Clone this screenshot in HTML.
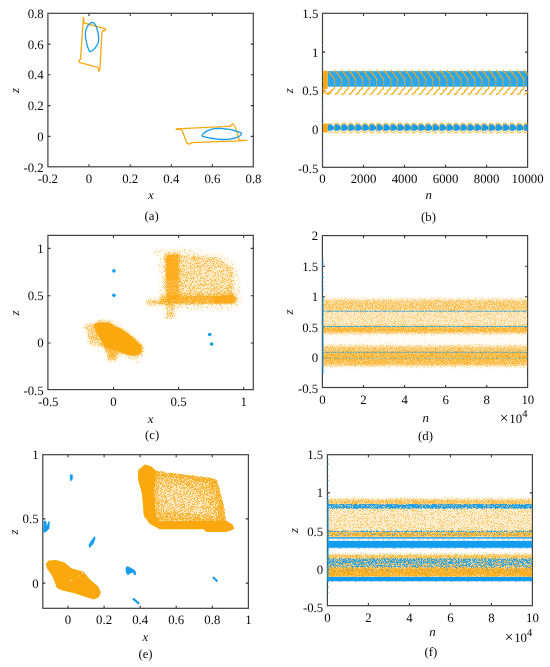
<!DOCTYPE html>
<html><head><meta charset="utf-8"><title>Figure</title>
<style>html,body{margin:0;padding:0;background:#fff}svg{display:block}
text{font-family:"Liberation Serif","DejaVu Serif",serif;font-size:12.8px;fill:#0a0a0a;text-rendering:geometricPrecision}</style></head>
<body><svg width="550" height="667" viewBox="0 0 550 667">
<rect width="550" height="667" fill="#fff"/>
<defs>
<filter id="so" filterUnits="userSpaceOnUse" x="0" y="0" width="550" height="667" color-interpolation-filters="sRGB">
<feGaussianBlur in="SourceAlpha" stdDeviation="1.2" result="a"/>
<feTurbulence type="fractalNoise" baseFrequency="1.3" numOctaves="1" seed="3" result="t"/>
<feColorMatrix in="t" type="matrix" values="0 0 0 0 0 0 0 0 0 0 0 0 0 0 0 3.2 0 0 0 -1.1" result="n"/>
<feComposite in="a" in2="n" operator="arithmetic" k1="0" k2="1" k3="-1" k4="0" result="d"/>
<feComponentTransfer in="d" result="m"><feFuncA type="linear" slope="12" intercept="0"/></feComponentTransfer>
<feComposite in="m" in2="a" operator="arithmetic" k1="0" k2="0.45" k3="0.55" k4="0" result="q"/>
<feFlood flood-color="#FBA80F"/><feComposite in2="q" operator="in"/>
</filter>
<filter id="so2" filterUnits="userSpaceOnUse" x="0" y="0" width="550" height="667" color-interpolation-filters="sRGB">
<feGaussianBlur in="SourceAlpha" stdDeviation="0.8" result="a"/>
<feTurbulence type="fractalNoise" baseFrequency="1.3" numOctaves="1" seed="11" result="t"/>
<feColorMatrix in="t" type="matrix" values="0 0 0 0 0 0 0 0 0 0 0 0 0 0 0 3.2 0 0 0 -1.1" result="n"/>
<feComposite in="a" in2="n" operator="arithmetic" k1="0" k2="1" k3="-1" k4="0" result="d"/>
<feComponentTransfer in="d" result="m"><feFuncA type="linear" slope="12" intercept="0"/></feComponentTransfer>
<feComposite in="m" in2="a" operator="arithmetic" k1="0" k2="0.6" k3="0.40" k4="0" result="q"/>
<feFlood flood-color="#FBA80F"/><feComposite in2="q" operator="in"/>
</filter>
<filter id="sb" filterUnits="userSpaceOnUse" x="0" y="0" width="550" height="667" color-interpolation-filters="sRGB">
<feGaussianBlur in="SourceAlpha" stdDeviation="0" result="a"/>
<feTurbulence type="fractalNoise" baseFrequency="1.3" numOctaves="1" seed="5" result="t"/>
<feColorMatrix in="t" type="matrix" values="0 0 0 0 0 0 0 0 0 0 0 0 0 0 0 3.2 0 0 0 -1.1" result="n"/>
<feComposite in="a" in2="n" operator="arithmetic" k1="0" k2="1" k3="-1" k4="0" result="d"/>
<feComponentTransfer in="d" result="m"><feFuncA type="linear" slope="12" intercept="0"/></feComponentTransfer>
<feComposite in="m" in2="a" operator="arithmetic" k1="0" k2="0.6" k3="0.40" k4="0" result="q"/>
<feFlood flood-color="#149DEE"/><feComposite in2="q" operator="in"/>
</filter>
<filter id="soh" filterUnits="userSpaceOnUse" x="0" y="0" width="550" height="667" color-interpolation-filters="sRGB">
<feGaussianBlur in="SourceAlpha" stdDeviation="0 1.5" result="a"/>
<feTurbulence type="fractalNoise" baseFrequency="1.3" numOctaves="1" seed="8" result="t"/>
<feColorMatrix in="t" type="matrix" values="0 0 0 0 0 0 0 0 0 0 0 0 0 0 0 3.2 0 0 0 -1.1" result="n"/>
<feComposite in="a" in2="n" operator="arithmetic" k1="0" k2="1" k3="-1" k4="0" result="d"/>
<feComponentTransfer in="d" result="m"><feFuncA type="linear" slope="12" intercept="0"/></feComponentTransfer>
<feComposite in="m" in2="a" operator="arithmetic" k1="0" k2="0.32" k3="0.68" k4="0" result="q"/>
<feFlood flood-color="#FBA80F"/><feComposite in2="q" operator="in"/>
</filter>
<filter id="sbh" filterUnits="userSpaceOnUse" x="0" y="0" width="550" height="667" color-interpolation-filters="sRGB">
<feGaussianBlur in="SourceAlpha" stdDeviation="0" result="a"/>
<feTurbulence type="fractalNoise" baseFrequency="0.8 1.1" numOctaves="1" seed="21" result="t"/>
<feColorMatrix in="t" type="matrix" values="0 0 0 0 0 0 0 0 0 0 0 0 0 0 0 3.2 0 0 0 -1.1" result="n"/>
<feComposite in="a" in2="n" operator="arithmetic" k1="0" k2="1" k3="-1" k4="0" result="d"/>
<feComponentTransfer in="d" result="m"><feFuncA type="linear" slope="12" intercept="0"/></feComponentTransfer>
<feComposite in="m" in2="a" operator="arithmetic" k1="0" k2="0.7" k3="0.30" k4="0" result="q"/>
<feFlood flood-color="#149DEE"/><feComposite in2="q" operator="in"/>
</filter>
<filter id="so3" filterUnits="userSpaceOnUse" x="0" y="0" width="550" height="667" color-interpolation-filters="sRGB">
<feGaussianBlur in="SourceAlpha" stdDeviation="0" result="a"/>
<feTurbulence type="fractalNoise" baseFrequency="1.3" numOctaves="1" seed="17" result="t"/>
<feColorMatrix in="t" type="matrix" values="0 0 0 0 0 0 0 0 0 0 0 0 0 0 0 3.2 0 0 0 -1.1" result="n"/>
<feComposite in="a" in2="n" operator="arithmetic" k1="0" k2="1" k3="-1" k4="0" result="d"/>
<feComponentTransfer in="d" result="m"><feFuncA type="linear" slope="12" intercept="0"/></feComponentTransfer>
<feComposite in="m" in2="a" operator="arithmetic" k1="0" k2="0.5" k3="0.50" k4="0" result="q"/>
<feFlood flood-color="#FBA80F"/><feComposite in2="q" operator="in"/>
</filter>
<filter id="sof" filterUnits="userSpaceOnUse" x="0" y="0" width="550" height="667" color-interpolation-filters="sRGB">
<feGaussianBlur in="SourceAlpha" stdDeviation="0 0.8" result="a"/>
<feTurbulence type="fractalNoise" baseFrequency="1.3" numOctaves="1" seed="14" result="t"/>
<feColorMatrix in="t" type="matrix" values="0 0 0 0 0 0 0 0 0 0 0 0 0 0 0 3.2 0 0 0 -1.1" result="n"/>
<feComposite in="a" in2="n" operator="arithmetic" k1="0" k2="1" k3="-1" k4="0" result="d"/>
<feComponentTransfer in="d" result="m"><feFuncA type="linear" slope="12" intercept="0"/></feComponentTransfer>
<feComposite in="m" in2="a" operator="arithmetic" k1="0" k2="0.4" k3="0.60" k4="0" result="q"/>
<feFlood flood-color="#FBA80F"/><feComposite in2="q" operator="in"/>
</filter>
<clipPath id="cA"><rect x="47.9" y="13.3" width="205.4" height="153.5"/></clipPath>
<clipPath id="cB"><rect x="322.5" y="13.3" width="205.1" height="154.0"/></clipPath>
<clipPath id="cC"><rect x="47.9" y="235.4" width="205.4" height="154.2"/></clipPath>
<clipPath id="cD"><rect x="322.4" y="235.6" width="205.2" height="151.9"/></clipPath>
<clipPath id="cE"><rect x="42.8" y="454.7" width="205.6" height="153.6"/></clipPath>
<clipPath id="cF"><rect x="327.4" y="454.7" width="205.0" height="151.0"/></clipPath>
<filter id="bl" x="-10%" y="-10%" width="120%" height="120%"><feGaussianBlur stdDeviation="0.8"/></filter>
</defs>
<path d="M89.0 166.8v-2.6M89.0 13.3v2.6M130.2 166.8v-2.6M130.2 13.3v2.6M171.3 166.8v-2.6M171.3 13.3v2.6M212.4 166.8v-2.6M212.4 13.3v2.6M47.9 136.4h2.6M253.3 136.4h-2.6M47.9 105.6h2.6M253.3 105.6h-2.6M47.9 74.8h2.6M253.3 74.8h-2.6M47.9 44.1h2.6M253.3 44.1h-2.6" stroke="#333" stroke-width="1.1" fill="none"/>
<rect x="47.9" y="13.3" width="205.4" height="153.5" fill="none" stroke="#404040" stroke-width="1.2"/>
<text x="47.9" y="183.1" text-anchor="middle">-0.2</text>
<text x="89.0" y="183.1" text-anchor="middle">0</text>
<text x="130.2" y="183.1" text-anchor="middle">0.2</text>
<text x="171.3" y="183.1" text-anchor="middle">0.4</text>
<text x="212.4" y="183.1" text-anchor="middle">0.6</text>
<text x="253.5" y="183.1" text-anchor="middle">0.8</text>
<text x="43.7" y="171.6" text-anchor="end">-0.2</text>
<text x="43.7" y="140.8" text-anchor="end">0</text>
<text x="43.7" y="110.0" text-anchor="end">0.2</text>
<text x="43.7" y="79.2" text-anchor="end">0.4</text>
<text x="43.7" y="48.5" text-anchor="end">0.6</text>
<text x="43.7" y="17.7" text-anchor="end">0.8</text>
<text x="150.9" y="199.3" text-anchor="middle" font-style="italic" font-size="14">x</text>
<text transform="translate(18.5 90.5) rotate(-90)" text-anchor="middle" font-style="italic" font-size="14.5">z</text>
<text x="151.6" y="219.6" text-anchor="middle" font-size="13">(a)</text>
<path d="M363.5 167.3v-2.6M363.5 13.3v2.6M404.5 167.3v-2.6M404.5 13.3v2.6M445.6 167.3v-2.6M445.6 13.3v2.6M486.6 167.3v-2.6M486.6 13.3v2.6M322.5 129.6h2.6M527.6 129.6h-2.6M322.5 90.8h2.6M527.6 90.8h-2.6M322.5 52.1h2.6M527.6 52.1h-2.6" stroke="#333" stroke-width="1.1" fill="none"/>
<rect x="322.5" y="13.3" width="205.1" height="154.0" fill="none" stroke="#404040" stroke-width="1.2"/>
<text x="322.5" y="183.2" text-anchor="middle">0</text>
<text x="363.5" y="183.2" text-anchor="middle">2000</text>
<text x="404.5" y="183.2" text-anchor="middle">4000</text>
<text x="445.6" y="183.2" text-anchor="middle">6000</text>
<text x="486.6" y="183.2" text-anchor="middle">8000</text>
<text x="527.6" y="183.2" text-anchor="middle">10000</text>
<text x="318.3" y="172.7" text-anchor="end">-0.5</text>
<text x="318.3" y="134.0" text-anchor="end">0</text>
<text x="318.3" y="95.2" text-anchor="end">0.5</text>
<text x="318.3" y="56.5" text-anchor="end">1</text>
<text x="318.3" y="17.7" text-anchor="end">1.5</text>
<text x="428.6" y="199.2" text-anchor="middle" font-style="italic" font-size="14">n</text>
<text transform="translate(293.1 90.7) rotate(-90)" text-anchor="middle" font-style="italic" font-size="14.5">z</text>
<text x="428.5" y="221.3" text-anchor="middle" font-size="13">(b)</text>
<path d="M113.5 389.6v-2.6M113.5 235.4v2.6M178.6 389.6v-2.6M178.6 235.4v2.6M243.7 389.6v-2.6M243.7 235.4v2.6M47.9 343.0h2.6M253.3 343.0h-2.6M47.9 295.7h2.6M253.3 295.7h-2.6M47.9 248.4h2.6M253.3 248.4h-2.6" stroke="#333" stroke-width="1.1" fill="none"/>
<rect x="47.9" y="235.4" width="205.4" height="154.2" fill="none" stroke="#404040" stroke-width="1.2"/>
<text x="48.4" y="406.1" text-anchor="middle">-0.5</text>
<text x="113.5" y="406.1" text-anchor="middle">0</text>
<text x="178.6" y="406.1" text-anchor="middle">0.5</text>
<text x="243.7" y="406.1" text-anchor="middle">1</text>
<text x="43.7" y="394.7" text-anchor="end">-0.5</text>
<text x="43.7" y="347.4" text-anchor="end">0</text>
<text x="43.7" y="300.1" text-anchor="end">0.5</text>
<text x="43.7" y="252.8" text-anchor="end">1</text>
<text x="150.5" y="422.5" text-anchor="middle" font-style="italic" font-size="14">x</text>
<text transform="translate(18.5 312.9) rotate(-90)" text-anchor="middle" font-style="italic" font-size="14.5">z</text>
<text x="152.2" y="439.4" text-anchor="middle" font-size="13">(c)</text>
<path d="M363.5 387.5v-2.6M363.5 235.6v2.6M404.6 387.5v-2.6M404.6 235.6v2.6M445.6 387.5v-2.6M445.6 235.6v2.6M486.7 387.5v-2.6M486.7 235.6v2.6M322.4 357.7h2.6M527.6 357.7h-2.6M322.4 327.2h2.6M527.6 327.2h-2.6M322.4 296.7h2.6M527.6 296.7h-2.6M322.4 266.2h2.6M527.6 266.2h-2.6" stroke="#333" stroke-width="1.1" fill="none"/>
<rect x="322.4" y="235.6" width="205.2" height="151.9" fill="none" stroke="#404040" stroke-width="1.2"/>
<text x="322.4" y="403.6" text-anchor="middle">0</text>
<text x="363.5" y="403.6" text-anchor="middle">2</text>
<text x="404.6" y="403.6" text-anchor="middle">4</text>
<text x="445.6" y="403.6" text-anchor="middle">6</text>
<text x="486.7" y="403.6" text-anchor="middle">8</text>
<text x="527.8" y="403.6" text-anchor="middle">10</text>
<text x="318.2" y="392.6" text-anchor="end">-0.5</text>
<text x="318.2" y="362.1" text-anchor="end">0</text>
<text x="318.2" y="331.6" text-anchor="end">0.5</text>
<text x="318.2" y="301.1" text-anchor="end">1</text>
<text x="318.2" y="270.6" text-anchor="end">1.5</text>
<text x="318.2" y="240.1" text-anchor="end">2</text>
<text x="425.8" y="422.0" text-anchor="middle" font-style="italic" font-size="14">n</text>
<text transform="translate(293.0 311.9) rotate(-90)" text-anchor="middle" font-style="italic" font-size="14.5">z</text>
<text x="425.5" y="439.7" text-anchor="middle" font-size="13">(d)</text>
<text x="499.8" y="422.9" font-size="13"><tspan font-size="15.5">×</tspan><tspan x="509.3">10</tspan><tspan x="522.2" dy="-6" font-size="10.5">4</tspan></text>
<path d="M68.0 608.3v-2.6M68.0 454.7v2.6M104.1 608.3v-2.6M104.1 454.7v2.6M140.2 608.3v-2.6M140.2 454.7v2.6M176.2 608.3v-2.6M176.2 454.7v2.6M212.3 608.3v-2.6M212.3 454.7v2.6M42.8 583.1h2.6M248.4 583.1h-2.6M42.8 518.9h2.6M248.4 518.9h-2.6" stroke="#333" stroke-width="1.1" fill="none"/>
<rect x="42.8" y="454.7" width="205.6" height="153.6" fill="none" stroke="#404040" stroke-width="1.2"/>
<text x="68.0" y="624.4" text-anchor="middle">0</text>
<text x="104.1" y="624.4" text-anchor="middle">0.2</text>
<text x="140.2" y="624.4" text-anchor="middle">0.4</text>
<text x="176.2" y="624.4" text-anchor="middle">0.6</text>
<text x="212.3" y="624.4" text-anchor="middle">0.8</text>
<text x="248.4" y="624.4" text-anchor="middle">1</text>
<text x="38.6" y="587.5" text-anchor="end">0</text>
<text x="38.6" y="523.3" text-anchor="end">0.5</text>
<text x="38.6" y="459.1" text-anchor="end">1</text>
<text x="145.3" y="640.8" text-anchor="middle" font-style="italic" font-size="14">x</text>
<text transform="translate(18.0 531.9) rotate(-90)" text-anchor="middle" font-style="italic" font-size="14.5">z</text>
<text x="145.5" y="657.7" text-anchor="middle" font-size="13">(e)</text>
<path d="M368.4 605.7v-2.6M368.4 454.7v2.6M409.4 605.7v-2.6M409.4 454.7v2.6M450.4 605.7v-2.6M450.4 454.7v2.6M491.4 605.7v-2.6M491.4 454.7v2.6M327.4 569.3h2.6M532.4 569.3h-2.6M327.4 531.1h2.6M532.4 531.1h-2.6M327.4 492.9h2.6M532.4 492.9h-2.6" stroke="#333" stroke-width="1.1" fill="none"/>
<rect x="327.4" y="454.7" width="205.0" height="151.0" fill="none" stroke="#404040" stroke-width="1.2"/>
<text x="327.4" y="621.5" text-anchor="middle">0</text>
<text x="368.4" y="621.5" text-anchor="middle">2</text>
<text x="409.4" y="621.5" text-anchor="middle">4</text>
<text x="450.4" y="621.5" text-anchor="middle">6</text>
<text x="491.4" y="621.5" text-anchor="middle">8</text>
<text x="532.4" y="621.5" text-anchor="middle">10</text>
<text x="323.2" y="611.9" text-anchor="end">-0.5</text>
<text x="323.2" y="573.7" text-anchor="end">0</text>
<text x="323.2" y="535.5" text-anchor="end">0.5</text>
<text x="323.2" y="497.3" text-anchor="end">1</text>
<text x="323.2" y="459.1" text-anchor="end">1.5</text>
<text x="432.5" y="636.4" text-anchor="middle" font-style="italic" font-size="14">n</text>
<text transform="translate(298.0 530.6) rotate(-90)" text-anchor="middle" font-style="italic" font-size="14.5">z</text>
<text x="430.8" y="655.5" text-anchor="middle" font-size="13">(f)</text>
<text x="504.7" y="641.5" font-size="13"><tspan font-size="15.5">×</tspan><tspan x="514.2">10</tspan><tspan x="527.1" dy="-6" font-size="10.5">4</tspan></text>
<g fill="none" stroke-width="1.3" stroke-linejoin="round" stroke-linecap="round">
<path stroke="#FBA80F" d="M83.4 17.2L84.1 23L105.6 28.8L105.3 30.3L102.6 31L102 31.8L99.9 69.5L99 71.2L97.9 67.4L80 62.6L78.8 61.6L80.6 58.6L83.4 17.2Z"/>
<path stroke="#FBA80F" d="M176.2 128.9L228.6 126.4L230.4 126.4L232.3 123.8L234 125L236.2 129.3L238.8 138.2L239.4 140.2L247 140.4L240 140.8L192 142.7L189 144.2L187 143.2L186 141L182.6 131.5L181.4 129.6L176.2 129.4Z"/>
<path stroke="#149DEE" d="M92.6 22.6C94.3 23.0 93.6 21.9 95.2 24.7C96.9 27.5 96.4 26.8 97.5 31.0C98.6 35.2 98.4 33.5 98.6 37.3C98.8 41.2 98.9 39.6 98.2 42.6C97.4 45.5 97.8 44.0 96.3 46.2C94.8 48.5 95.6 47.6 93.6 49.4C91.7 51.1 92.1 51.5 90.5 51.5C88.8 51.5 89.9 52.0 88.7 49.4C87.5 46.8 87.9 48.0 86.8 43.6C85.8 39.2 85.9 40.5 85.5 36.3C85.2 32.1 85.2 34.2 85.8 31.0C86.4 27.9 85.9 29.3 87.3 26.8C88.7 24.4 88.2 25.1 90.0 23.7C91.7 22.3 90.8 22.3 92.6 22.6Z"/>
<path stroke="#149DEE" d="M202.2 135.4C202.5 133.8 202.3 134.0 205.2 132.1C208.1 130.2 206.8 130.8 210.9 129.6C215.0 128.4 212.6 128.7 217.5 128.5C222.4 128.3 220.2 128.3 225.6 129.0C231.1 129.6 229.2 129.3 233.8 130.5C238.5 131.6 237.1 131.2 239.6 132.4C242.0 133.6 241.5 132.7 241.2 134.1C240.9 135.4 241.7 135.0 238.7 136.5C235.7 138.0 237.1 137.7 232.2 138.6C227.3 139.6 229.5 139.4 224.0 139.5C218.6 139.5 220.7 139.4 215.8 138.8C210.9 138.3 213.1 138.5 209.3 137.8C205.5 137.1 206.7 137.5 204.4 136.7C202.0 135.9 202.0 136.9 202.2 135.4Z"/>
</g>
<g clip-path="url(#cB)">
<rect x="327.4" y="71.1" width="200.2" height="15.6" fill="#149DEE" fill-opacity="0.9"/>
<path d="M327.40 124.3h4l0.7 1l1 0.5l1.4 1.8v0.8l-1.4 1.8l-1-0.5l-0.7 1h-4zM334.41 124.3h4l0.7 1l1 0.5l1.4 1.8v0.8l-1.4 1.8l-1-0.5l-0.7 1h-4zM341.43 124.3h4l0.7 1l1 0.5l1.4 1.8v0.8l-1.4 1.8l-1-0.5l-0.7 1h-4zM348.44 124.3h4l0.7 1l1 0.5l1.4 1.8v0.8l-1.4 1.8l-1-0.5l-0.7 1h-4zM355.46 124.3h4l0.7 1l1 0.5l1.4 1.8v0.8l-1.4 1.8l-1-0.5l-0.7 1h-4zM362.47 124.3h4l0.7 1l1 0.5l1.4 1.8v0.8l-1.4 1.8l-1-0.5l-0.7 1h-4zM369.49 124.3h4l0.7 1l1 0.5l1.4 1.8v0.8l-1.4 1.8l-1-0.5l-0.7 1h-4zM376.50 124.3h4l0.7 1l1 0.5l1.4 1.8v0.8l-1.4 1.8l-1-0.5l-0.7 1h-4zM383.52 124.3h4l0.7 1l1 0.5l1.4 1.8v0.8l-1.4 1.8l-1-0.5l-0.7 1h-4zM390.53 124.3h4l0.7 1l1 0.5l1.4 1.8v0.8l-1.4 1.8l-1-0.5l-0.7 1h-4zM397.55 124.3h4l0.7 1l1 0.5l1.4 1.8v0.8l-1.4 1.8l-1-0.5l-0.7 1h-4zM404.56 124.3h4l0.7 1l1 0.5l1.4 1.8v0.8l-1.4 1.8l-1-0.5l-0.7 1h-4zM411.58 124.3h4l0.7 1l1 0.5l1.4 1.8v0.8l-1.4 1.8l-1-0.5l-0.7 1h-4zM418.59 124.3h4l0.7 1l1 0.5l1.4 1.8v0.8l-1.4 1.8l-1-0.5l-0.7 1h-4zM425.61 124.3h4l0.7 1l1 0.5l1.4 1.8v0.8l-1.4 1.8l-1-0.5l-0.7 1h-4zM432.62 124.3h4l0.7 1l1 0.5l1.4 1.8v0.8l-1.4 1.8l-1-0.5l-0.7 1h-4zM439.64 124.3h4l0.7 1l1 0.5l1.4 1.8v0.8l-1.4 1.8l-1-0.5l-0.7 1h-4zM446.65 124.3h4l0.7 1l1 0.5l1.4 1.8v0.8l-1.4 1.8l-1-0.5l-0.7 1h-4zM453.67 124.3h4l0.7 1l1 0.5l1.4 1.8v0.8l-1.4 1.8l-1-0.5l-0.7 1h-4zM460.68 124.3h4l0.7 1l1 0.5l1.4 1.8v0.8l-1.4 1.8l-1-0.5l-0.7 1h-4zM467.70 124.3h4l0.7 1l1 0.5l1.4 1.8v0.8l-1.4 1.8l-1-0.5l-0.7 1h-4zM474.71 124.3h4l0.7 1l1 0.5l1.4 1.8v0.8l-1.4 1.8l-1-0.5l-0.7 1h-4zM481.73 124.3h4l0.7 1l1 0.5l1.4 1.8v0.8l-1.4 1.8l-1-0.5l-0.7 1h-4zM488.74 124.3h4l0.7 1l1 0.5l1.4 1.8v0.8l-1.4 1.8l-1-0.5l-0.7 1h-4zM495.76 124.3h4l0.7 1l1 0.5l1.4 1.8v0.8l-1.4 1.8l-1-0.5l-0.7 1h-4zM502.77 124.3h4l0.7 1l1 0.5l1.4 1.8v0.8l-1.4 1.8l-1-0.5l-0.7 1h-4zM509.79 124.3h4l0.7 1l1 0.5l1.4 1.8v0.8l-1.4 1.8l-1-0.5l-0.7 1h-4zM516.80 124.3h4l0.7 1l1 0.5l1.4 1.8v0.8l-1.4 1.8l-1-0.5l-0.7 1h-4zM523.82 124.3h4l0.7 1l1 0.5l1.4 1.8v0.8l-1.4 1.8l-1-0.5l-0.7 1h-4z" fill="#149DEE"/>
<g fill="none" stroke="#FBA80F" stroke-linejoin="round">
<path d="M328.90 71.4L331.50 75.4L333.90 77.9Q334.50 78.7 334.50 80M334.91 69.8L335.12 71.6L337.71 73.2L338.51 75.4L340.91 77.9Q341.51 78.7 341.51 80M341.93 69.8L342.13 71.6L344.73 73.2L345.53 75.4L347.93 77.9Q348.53 78.7 348.53 80M348.94 69.8L349.14 71.6L351.74 73.2L352.54 75.4L354.94 77.9Q355.54 78.7 355.54 80M355.96 69.8L356.16 71.6L358.76 73.2L359.56 75.4L361.96 77.9Q362.56 78.7 362.56 80M362.97 69.8L363.17 71.6L365.77 73.2L366.57 75.4L368.97 77.9Q369.57 78.7 369.57 80M369.99 69.8L370.19 71.6L372.79 73.2L373.59 75.4L375.99 77.9Q376.59 78.7 376.59 80M377.00 69.8L377.20 71.6L379.80 73.2L380.60 75.4L383.00 77.9Q383.60 78.7 383.60 80M384.02 69.8L384.22 71.6L386.82 73.2L387.62 75.4L390.02 77.9Q390.62 78.7 390.62 80M391.03 69.8L391.23 71.6L393.83 73.2L394.63 75.4L397.03 77.9Q397.63 78.7 397.63 80M398.05 69.8L398.25 71.6L400.85 73.2L401.65 75.4L404.05 77.9Q404.65 78.7 404.65 80M405.06 69.8L405.26 71.6L407.86 73.2L408.66 75.4L411.06 77.9Q411.66 78.7 411.66 80M412.08 69.8L412.28 71.6L414.88 73.2L415.68 75.4L418.08 77.9Q418.68 78.7 418.68 80M419.09 69.8L419.29 71.6L421.89 73.2L422.69 75.4L425.09 77.9Q425.69 78.7 425.69 80M426.11 69.8L426.31 71.6L428.91 73.2L429.71 75.4L432.11 77.9Q432.71 78.7 432.71 80M433.12 69.8L433.32 71.6L435.92 73.2L436.72 75.4L439.12 77.9Q439.72 78.7 439.72 80M440.14 69.8L440.34 71.6L442.94 73.2L443.74 75.4L446.14 77.9Q446.74 78.7 446.74 80M447.15 69.8L447.35 71.6L449.95 73.2L450.75 75.4L453.15 77.9Q453.75 78.7 453.75 80M454.17 69.8L454.37 71.6L456.97 73.2L457.77 75.4L460.17 77.9Q460.77 78.7 460.77 80M461.18 69.8L461.38 71.6L463.98 73.2L464.78 75.4L467.18 77.9Q467.78 78.7 467.78 80M468.20 69.8L468.40 71.6L471.00 73.2L471.80 75.4L474.20 77.9Q474.80 78.7 474.80 80M475.21 69.8L475.41 71.6L478.01 73.2L478.81 75.4L481.21 77.9Q481.81 78.7 481.81 80M482.23 69.8L482.43 71.6L485.03 73.2L485.83 75.4L488.23 77.9Q488.83 78.7 488.83 80M489.24 69.8L489.44 71.6L492.04 73.2L492.84 75.4L495.24 77.9Q495.84 78.7 495.84 80M496.26 69.8L496.46 71.6L499.06 73.2L499.86 75.4L502.26 77.9Q502.86 78.7 502.86 80M503.27 69.8L503.47 71.6L506.07 73.2L506.87 75.4L509.27 77.9Q509.87 78.7 509.87 80M510.29 69.8L510.49 71.6L513.09 73.2L513.89 75.4L516.29 77.9Q516.89 78.7 516.89 80M517.30 69.8L517.50 71.6L520.10 73.2L520.90 75.4L523.30 77.9Q523.90 78.7 523.90 80M524.32 69.8L524.52 71.6L527.12 73.2L527.92 75.4L530.32 77.9Q530.92 78.7 530.92 80" stroke-width="1.15"/>
<path d="M334.50 80V86.8M341.51 80V86.8M348.53 80V86.8M355.54 80V86.8M362.56 80V86.8M369.57 80V86.8M376.59 80V86.8M383.60 80V86.8M390.62 80V86.8M397.63 80V86.8M404.65 80V86.8M411.66 80V86.8M418.68 80V86.8M425.69 80V86.8M432.71 80V86.8M439.72 80V86.8M446.74 80V86.8M453.75 80V86.8M460.77 80V86.8M467.78 80V86.8M474.80 80V86.8M481.81 80V86.8M488.83 80V86.8M495.84 80V86.8M502.86 80V86.8M509.87 80V86.8M516.89 80V86.8M523.90 80V86.8M530.92 80V86.8" stroke-width="1.25" stroke-dasharray="1.2 0.8"/>
<path d="M334.50 86.6L334.10 88.8L331.60 90.6L330.50 93.2L328.10 94.4M341.51 86.6L341.12 88.8L338.62 90.6L337.51 93.2L335.12 94.4M348.53 86.6L348.13 88.8L345.63 90.6L344.53 93.2L342.13 94.4M355.54 86.6L355.14 88.8L352.64 90.6L351.54 93.2L349.14 94.4M362.56 86.6L362.16 88.8L359.66 90.6L358.56 93.2L356.16 94.4M369.57 86.6L369.17 88.8L366.67 90.6L365.57 93.2L363.17 94.4M376.59 86.6L376.19 88.8L373.69 90.6L372.59 93.2L370.19 94.4M383.60 86.6L383.20 88.8L380.70 90.6L379.60 93.2L377.20 94.4M390.62 86.6L390.22 88.8L387.72 90.6L386.62 93.2L384.22 94.4M397.63 86.6L397.23 88.8L394.73 90.6L393.63 93.2L391.23 94.4M404.65 86.6L404.25 88.8L401.75 90.6L400.65 93.2L398.25 94.4M411.66 86.6L411.26 88.8L408.76 90.6L407.66 93.2L405.26 94.4M418.68 86.6L418.28 88.8L415.78 90.6L414.68 93.2L412.28 94.4M425.69 86.6L425.29 88.8L422.79 90.6L421.69 93.2L419.29 94.4M432.71 86.6L432.31 88.8L429.81 90.6L428.71 93.2L426.31 94.4M439.72 86.6L439.32 88.8L436.82 90.6L435.72 93.2L433.32 94.4M446.74 86.6L446.34 88.8L443.84 90.6L442.74 93.2L440.34 94.4M453.75 86.6L453.35 88.8L450.85 90.6L449.75 93.2L447.35 94.4M460.77 86.6L460.37 88.8L457.87 90.6L456.77 93.2L454.37 94.4M467.78 86.6L467.38 88.8L464.88 90.6L463.78 93.2L461.38 94.4M474.80 86.6L474.40 88.8L471.90 90.6L470.80 93.2L468.40 94.4M481.81 86.6L481.41 88.8L478.91 90.6L477.81 93.2L475.41 94.4M488.83 86.6L488.43 88.8L485.93 90.6L484.83 93.2L482.43 94.4M495.84 86.6L495.44 88.8L492.94 90.6L491.84 93.2L489.44 94.4M502.86 86.6L502.46 88.8L499.96 90.6L498.86 93.2L496.46 94.4M509.87 86.6L509.47 88.8L506.97 90.6L505.87 93.2L503.47 94.4M516.89 86.6L516.49 88.8L513.99 90.6L512.89 93.2L510.49 94.4M523.90 86.6L523.50 88.8L521.00 90.6L519.90 93.2L517.50 94.4M530.92 86.6L530.52 88.8L528.02 90.6L526.92 93.2L524.52 94.4" stroke-width="1.2" stroke-linecap="round"/>
<path d="M334.60 123.8h4.1l0.8 1l1 0.5M334.60 132.2h4.1l0.8 -1l1 -0.5M335.40 123.1h1M337.20 123.1h0.9M335.40 132.9h1M337.20 132.9h0.9M334.50 124.4v7.2M341.62 123.8h4.1l0.8 1l1 0.5M341.62 132.2h4.1l0.8 -1l1 -0.5M342.41 123.1h1M344.21 123.1h0.9M342.41 132.9h1M344.21 132.9h0.9M341.51 124.4v7.2M348.63 123.8h4.1l0.8 1l1 0.5M348.63 132.2h4.1l0.8 -1l1 -0.5M349.43 123.1h1M351.23 123.1h0.9M349.43 132.9h1M351.23 132.9h0.9M348.53 124.4v7.2M355.64 123.8h4.1l0.8 1l1 0.5M355.64 132.2h4.1l0.8 -1l1 -0.5M356.44 123.1h1M358.24 123.1h0.9M356.44 132.9h1M358.24 132.9h0.9M355.54 124.4v7.2M362.66 123.8h4.1l0.8 1l1 0.5M362.66 132.2h4.1l0.8 -1l1 -0.5M363.46 123.1h1M365.26 123.1h0.9M363.46 132.9h1M365.26 132.9h0.9M362.56 124.4v7.2M369.67 123.8h4.1l0.8 1l1 0.5M369.67 132.2h4.1l0.8 -1l1 -0.5M370.47 123.1h1M372.27 123.1h0.9M370.47 132.9h1M372.27 132.9h0.9M369.57 124.4v7.2M376.69 123.8h4.1l0.8 1l1 0.5M376.69 132.2h4.1l0.8 -1l1 -0.5M377.49 123.1h1M379.29 123.1h0.9M377.49 132.9h1M379.29 132.9h0.9M376.59 124.4v7.2M383.70 123.8h4.1l0.8 1l1 0.5M383.70 132.2h4.1l0.8 -1l1 -0.5M384.50 123.1h1M386.30 123.1h0.9M384.50 132.9h1M386.30 132.9h0.9M383.60 124.4v7.2M390.72 123.8h4.1l0.8 1l1 0.5M390.72 132.2h4.1l0.8 -1l1 -0.5M391.52 123.1h1M393.32 123.1h0.9M391.52 132.9h1M393.32 132.9h0.9M390.62 124.4v7.2M397.73 123.8h4.1l0.8 1l1 0.5M397.73 132.2h4.1l0.8 -1l1 -0.5M398.53 123.1h1M400.33 123.1h0.9M398.53 132.9h1M400.33 132.9h0.9M397.63 124.4v7.2M404.75 123.8h4.1l0.8 1l1 0.5M404.75 132.2h4.1l0.8 -1l1 -0.5M405.55 123.1h1M407.35 123.1h0.9M405.55 132.9h1M407.35 132.9h0.9M404.65 124.4v7.2M411.76 123.8h4.1l0.8 1l1 0.5M411.76 132.2h4.1l0.8 -1l1 -0.5M412.56 123.1h1M414.36 123.1h0.9M412.56 132.9h1M414.36 132.9h0.9M411.66 124.4v7.2M418.78 123.8h4.1l0.8 1l1 0.5M418.78 132.2h4.1l0.8 -1l1 -0.5M419.58 123.1h1M421.38 123.1h0.9M419.58 132.9h1M421.38 132.9h0.9M418.68 124.4v7.2M425.79 123.8h4.1l0.8 1l1 0.5M425.79 132.2h4.1l0.8 -1l1 -0.5M426.59 123.1h1M428.39 123.1h0.9M426.59 132.9h1M428.39 132.9h0.9M425.69 124.4v7.2M432.81 123.8h4.1l0.8 1l1 0.5M432.81 132.2h4.1l0.8 -1l1 -0.5M433.61 123.1h1M435.41 123.1h0.9M433.61 132.9h1M435.41 132.9h0.9M432.71 124.4v7.2M439.82 123.8h4.1l0.8 1l1 0.5M439.82 132.2h4.1l0.8 -1l1 -0.5M440.62 123.1h1M442.42 123.1h0.9M440.62 132.9h1M442.42 132.9h0.9M439.72 124.4v7.2M446.84 123.8h4.1l0.8 1l1 0.5M446.84 132.2h4.1l0.8 -1l1 -0.5M447.64 123.1h1M449.44 123.1h0.9M447.64 132.9h1M449.44 132.9h0.9M446.74 124.4v7.2M453.85 123.8h4.1l0.8 1l1 0.5M453.85 132.2h4.1l0.8 -1l1 -0.5M454.65 123.1h1M456.45 123.1h0.9M454.65 132.9h1M456.45 132.9h0.9M453.75 124.4v7.2M460.87 123.8h4.1l0.8 1l1 0.5M460.87 132.2h4.1l0.8 -1l1 -0.5M461.67 123.1h1M463.47 123.1h0.9M461.67 132.9h1M463.47 132.9h0.9M460.77 124.4v7.2M467.88 123.8h4.1l0.8 1l1 0.5M467.88 132.2h4.1l0.8 -1l1 -0.5M468.68 123.1h1M470.48 123.1h0.9M468.68 132.9h1M470.48 132.9h0.9M467.78 124.4v7.2M474.90 123.8h4.1l0.8 1l1 0.5M474.90 132.2h4.1l0.8 -1l1 -0.5M475.70 123.1h1M477.50 123.1h0.9M475.70 132.9h1M477.50 132.9h0.9M474.80 124.4v7.2M481.91 123.8h4.1l0.8 1l1 0.5M481.91 132.2h4.1l0.8 -1l1 -0.5M482.71 123.1h1M484.51 123.1h0.9M482.71 132.9h1M484.51 132.9h0.9M481.81 124.4v7.2M488.93 123.8h4.1l0.8 1l1 0.5M488.93 132.2h4.1l0.8 -1l1 -0.5M489.73 123.1h1M491.53 123.1h0.9M489.73 132.9h1M491.53 132.9h0.9M488.83 124.4v7.2M495.94 123.8h4.1l0.8 1l1 0.5M495.94 132.2h4.1l0.8 -1l1 -0.5M496.74 123.1h1M498.54 123.1h0.9M496.74 132.9h1M498.54 132.9h0.9M495.84 124.4v7.2M502.96 123.8h4.1l0.8 1l1 0.5M502.96 132.2h4.1l0.8 -1l1 -0.5M503.76 123.1h1M505.56 123.1h0.9M503.76 132.9h1M505.56 132.9h0.9M502.86 124.4v7.2M509.97 123.8h4.1l0.8 1l1 0.5M509.97 132.2h4.1l0.8 -1l1 -0.5M510.77 123.1h1M512.57 123.1h0.9M510.77 132.9h1M512.57 132.9h0.9M509.87 124.4v7.2M516.99 123.8h4.1l0.8 1l1 0.5M516.99 132.2h4.1l0.8 -1l1 -0.5M517.79 123.1h1M519.59 123.1h0.9M517.79 132.9h1M519.59 132.9h0.9M516.89 124.4v7.2M524.00 123.8h4.1l0.8 1l1 0.5M524.00 132.2h4.1l0.8 -1l1 -0.5M524.80 123.1h1M526.60 123.1h0.9M524.80 132.9h1M526.60 132.9h0.9M523.90 124.4v7.2M531.02 123.8h4.1l0.8 1l1 0.5M531.02 132.2h4.1l0.8 -1l1 -0.5M531.82 123.1h1M533.62 123.1h0.9M531.82 132.9h1M533.62 132.9h0.9M530.92 124.4v7.2M327.6 123.9h5.2M327.6 132.1h5.2" stroke-width="0.75"/>
</g>
<g fill="#FBA80F">
<rect x="323" y="70.8" width="4.6" height="18.4" rx="1"/><rect x="323" y="123.6" width="4.6" height="8.8" rx="1.2"/>
<path d="M323.4 89v4.8l1.4 -3.2l2.2 3.4l4.4 -3.6" fill="none" stroke="#FBA80F" stroke-width="1.1"/>
</g>
<path d="M322.7 45V167" stroke="#149DEE" stroke-width="1" stroke-opacity="0.75" stroke-dasharray="1.2 3.8 0.8 5.4 1.5 2.6"/>
<path d="M322.7 37V167" stroke="#FBA80F" stroke-width="1" stroke-opacity="0.75" stroke-dasharray="0.8 6.4 1.2 4.8 0.7 7.9"/>
</g>
<g clip-path="url(#cC)">
<g filter="url(#so)" fill="#000">
<path d="M82.3 323.8L93.9 321.9L98.3 319.6L109.9 319.9L125.2 327.7L144.1 343.7L144.8 353.6L139.7 358.7L138.3 364.1L130.3 358.7L118.6 354.4L116.0 360.9L108.2 361.6L104.5 350.7L88.4 344.6L86.6 334.7Z" fill-opacity="0.15" />
<path d="M92.5 325.3L104.1 346.4L105.8 350.0L108.7 360.2L115.4 360.2L119.4 352.9L104.1 339.1Z" fill-opacity="0.72" />
<path d="M85.2 324.5L93.9 323.8L104.8 347.1L89.3 343.7L87.4 333.3Z" fill-opacity="0.42" />
<path d="M93.9 323.8L98.3 321.6L109.2 321.6L114.3 325.3L123.0 328.9L132.5 336.2L141.9 344.9L142.6 352.2L139.0 355.8L130.3 356.5L118.6 352.2L108.5 349.3L104.1 346.4L99.7 339.1L95.4 331.8L93.2 326.7Z" fill-opacity="0.6" />
<path d="M151.0 251.0L180.0 248.0L220.0 253.0L237.0 263.0L241.0 288.0L241.0 304.0L235.0 310.0L178.0 310.0L177.0 319.6L163.6 319.6L163.6 307.6L145.0 306.6L145.0 298.4L159.6 296.8L158.4 260.0Z" fill-opacity="0.11" />
<path d="M181.0 255.0L218.0 258.0L232.0 267.0L232.4 295.0L181.0 295.0Z" fill-opacity="0.36" />
<path d="M166.0 300.0L175.2 300.0L174.0 318.0L166.8 318.0Z" fill-opacity="0.42" />
<path d="M147.0 300.0L165.0 299.4L165.0 304.6L147.0 304.2Z" fill-opacity="0.5" />
<path d="M160.0 294.4L234.0 293.6L237.6 298.0L235.6 304.0L160.0 305.0Z" fill-opacity="0.6" />
<path d="M229.2 267.6L233.0 268.4L233.6 294.4L229.8 294.4Z" fill-opacity="0.3" />
<path d="M181.0 254.8L218.0 257.6L232.0 266.8L231.2 269.2L217.2 260.0L181.0 257.4Z" fill-opacity="0.25" />
<path d="M164.4 253.6L180.6 252.4L181.0 300.0L165.0 300.6Z" fill-opacity="0.6" />
</g>
<g fill="#FBA80F">
<path d="M94.3 324.5L98.3 322.4L108.9 322.4L114.0 325.9L122.7 329.5L132.0 336.8L141.2 345.3L141.9 351.9L138.6 355.1L130.4 355.8L118.9 351.5L108.7 348.5L104.5 345.8L100.3 338.8L95.9 331.5L93.9 327.0Z" fill-opacity="1" />
</g>
<g fill="#FBA80F">
<path d="M166.4 255.6L178.4 254.6L178.8 298.0L166.8 298.6Z" fill-opacity="0.55" />
<path d="M166.4 255.6L178.4 254.6L178.6 280.0L166.6 280.6Z" fill-opacity="0.55" />
<path d="M168.0 296.8L220.0 296.0L233.6 295.4L236.4 299.0L233.6 303.2L220.0 303.6L168.0 303.2Z" fill-opacity="0.55" />
<path d="M214.0 296.2L220.0 296.0L233.6 295.4L236.4 299.0L233.6 303.2L220.0 303.6L214.0 303.6Z" fill-opacity="0.7" />
</g>
<g fill="#149DEE"><circle cx="113.9" cy="270.9" r="1.8"/><circle cx="113.9" cy="295.3" r="1.8"/><circle cx="209.7" cy="334.5" r="1.8"/><circle cx="211.6" cy="344.1" r="1.8"/></g>
</g>
<g clip-path="url(#cD)">
<g filter="url(#soh)" fill="#000">
<rect x="322.4" y="299.30" width="205.2" height="11.70" fill-opacity="0.56"/>
<rect x="322.4" y="311.00" width="205.2" height="15.20" fill-opacity="0.33"/>
<rect x="322.4" y="326.20" width="205.2" height="7.10" fill-opacity="0.8"/>
<rect x="322.4" y="336.00" width="205.2" height="7.00" fill-opacity="0.04"/>
<rect x="322.4" y="345.60" width="205.2" height="6.40" fill-opacity="0.6"/>
<rect x="322.4" y="352.00" width="205.2" height="6.00" fill-opacity="0.78"/>
<rect x="322.4" y="358.00" width="205.2" height="7.80" fill-opacity="0.72"/>
</g>
<g stroke="#149DEE" stroke-width="1.1" fill="none">
<path d="M322.4 311.2H527.6M322.4 326.5H527.6" stroke-dasharray="2.5 0.6 1 0.5 4 0.7" stroke-opacity="0.85"/>
<path d="M322.4 352.2H527.6" stroke-dasharray="2 0.8 3 0.6 1 0.7" stroke-opacity="0.8"/>
<path d="M322.4 358.2H527.6" stroke-dasharray="1.5 2.2 2.5 1.5 1 2.6" stroke-opacity="0.55"/>
<path d="M322.9 297V374" stroke-width="1.2"/><path d="M322.9 259V297" stroke-width="1.1" stroke-dasharray="1.5 2 3 2.5 1 3"/>
</g>
</g>
<g clip-path="url(#cE)">
<clipPath id="ceo"><path d="M138.4 470.0L145.0 464.4L152.0 467.0L156.0 471.0L188.0 475.0L212.0 478.0L217.0 480.0L224.0 506.0L226.0 521.0L233.0 525.0L234.0 529.0L226.0 532.0L206.0 532.0L204.0 529.0L160.0 529.0L150.0 524.0L144.0 516.0L142.0 494.0L138.0 478.0Z"/></clipPath>
<g filter="url(#so3)" fill="#000">
<path d="M138.4 470.0L145.0 464.4L152.0 467.0L156.0 471.0L188.0 475.0L212.0 478.0L217.0 480.0L224.0 506.0L226.0 521.0L233.0 525.0L234.0 529.0L226.0 532.0L206.0 532.0L204.0 529.0L160.0 529.0L150.0 524.0L144.0 516.0L142.0 494.0L138.0 478.0Z" fill-opacity="0.48" />
<g clip-path="url(#ceo)">
<path d="M138.4 470.0L145.0 464.4L152.0 467.0L156.0 471.0L188.0 475.0L212.0 478.0L217.0 480.0L224.0 506.0L226.0 521.0L233.0 525.0L234.0 529.0L226.0 532.0L206.0 532.0L204.0 529.0L160.0 529.0L150.0 524.0L144.0 516.0L142.0 494.0L138.0 478.0Z" fill="none" stroke="#000" stroke-width="9" stroke-opacity="0.22"/>
<path d="M138.4 470.0L145.0 464.4L152.0 467.0L156.0 471.0L188.0 475.0L212.0 478.0L217.0 480.0L224.0 506.0L226.0 521.0L233.0 525.0L234.0 529.0L226.0 532.0L206.0 532.0L204.0 529.0L160.0 529.0L150.0 524.0L144.0 516.0L142.0 494.0L138.0 478.0Z" fill="none" stroke="#000" stroke-width="22" stroke-opacity="0.16"/>
<path d="M138.4 470.0L145.0 464.4L152.0 467.0L156.0 471.0L188.0 475.0L212.0 478.0L217.0 480.0L224.0 506.0L226.0 521.0L233.0 525.0L234.0 529.0L226.0 532.0L206.0 532.0L204.0 529.0L160.0 529.0L150.0 524.0L144.0 516.0L142.0 494.0L138.0 478.0Z" fill="none" stroke="#000" stroke-width="38" stroke-opacity="0.1"/>
<path d="M156.0 470.0L212.0 477.0L218.0 480.0L217.2 484.4L210.0 483.0L156.0 476.0Z" fill-opacity="0.3" />
<path d="M211.0 478.0L218.0 480.0L224.4 506.0L226.4 522.0L219.0 522.0L217.2 506.0L210.0 484.0Z" fill-opacity="0.35" />
<path d="M154.0 512.0L190.0 513.6L224.0 517.0L224.0 522.0L154.0 520.0Z" fill-opacity="0.3" />
<path d="M154.0 471.0L160.0 472.0L158.4 490.0L159.6 516.0L154.0 516.0Z" fill-opacity="0.3" />
<path d="M180.0 480.0L187.0 480.0L215.0 500.0L212.0 506.0Z" fill-opacity="0.22" />
<path d="M190.0 476.0L212.0 478.0L218.0 502.0L214.0 504.0Z" fill-opacity="0.15" />
</g></g>
<g fill="#FBA80F">
<path d="M138.4 470.0L145.0 464.4L152.0 467.0L156.0 471.0L154.4 490.0L155.4 515.0L160.0 521.2L226.0 520.4L233.0 525.0L234.0 529.0L226.0 532.0L206.0 532.0L204.0 529.2L160.0 529.2L150.0 524.0L144.0 516.0L142.0 494.0L138.0 478.0Z" fill-opacity="1" />
<path d="M45.8 563.8L48.7 560.5L56.0 559.9L64.7 562.4L71.3 568.2L83.6 571.8L89.5 579.1L98.2 586.4L100.8 592.2L98.9 597.3L93.8 599.5L86.5 597.3L73.5 592.9L60.4 590.0L56.7 587.8L52.4 576.2L47.3 568.9Z" fill-opacity="1" />
</g>
<g fill="#fff"><circle cx="70.5" cy="580.5" r="0.7"/><circle cx="82.4" cy="573.3" r="0.8"/><circle cx="79" cy="576" r="0.5"/><circle cx="60" cy="589.6" r="0.5"/></g>
<g fill="#149DEE" stroke="#149DEE" stroke-width="0.3" stroke-linejoin="round">
<path d="M70.0 474.7L72.4 474.4L72.8 478.5L70.8 481.5L70.0 478.5Z" fill-opacity="1" />
<path d="M43.8 521.0L46.0 521.0L46.9 526.3L48.5 521.6L49.7 521.7L49.2 528.4L46.1 531.8L43.4 532.5Z" fill-opacity="1" />
<path d="M94.7 536.3L95.3 538.5L93.3 543.9L89.3 548.0L88.9 544.6L91.3 540.6Z" fill-opacity="1" />
<path d="M125.9 567.8L127.4 566.3L131.1 568.1L134.9 570.4L136.0 572.6L135.6 574.9L134.1 574.9L133.4 572.6L130.8 573.0L127.8 574.9L125.9 572.3Z" fill-opacity="1" />
<path d="M133.6 599.2L138.4 603.2" stroke-width="2.3" stroke-linecap="round"/>
<path d="M213.4 577.6L217 580.9" stroke-width="2.0" stroke-linecap="round"/>
</g>
</g>
<g clip-path="url(#cF)">
<g filter="url(#sof)" fill="#000">
<rect x="327.4" y="499.00" width="205.0" height="5.20" fill-opacity="0.66"/>
<rect x="327.4" y="504.20" width="205.0" height="4.40" fill-opacity="0.5"/>
<rect x="327.4" y="508.60" width="205.0" height="22.00" fill-opacity="0.34"/>
<rect x="327.4" y="530.60" width="205.0" height="1.60" fill-opacity="0.5"/>
<rect x="327.4" y="532.20" width="205.0" height="5.00" fill-opacity="0.86"/>
<rect x="327.4" y="554.40" width="205.0" height="3.80" fill-opacity="0.7"/>
<rect x="327.4" y="558.20" width="205.0" height="9.40" fill-opacity="0.6"/>
<rect x="327.4" y="567.60" width="205.0" height="9.40" fill-opacity="0.9"/>
</g>
<g filter="url(#sbh)" fill="#000">
<rect x="327.4" y="504.10" width="205.0" height="4.50" fill-opacity="0.82"/>
<rect x="327.4" y="530.70" width="205.0" height="1.50" fill-opacity="0.62"/>
<rect x="327.4" y="533.50" width="205.0" height="2.50" fill-opacity="0.1"/>
<rect x="327.4" y="558.30" width="205.0" height="5.20" fill-opacity="0.6"/>
<rect x="327.4" y="563.50" width="205.0" height="4.00" fill-opacity="0.5"/>
<rect x="327.4" y="568.00" width="205.0" height="4.00" fill-opacity="0.07"/>
</g>
<g fill="#149DEE">
<rect x="327.4" y="537.2" width="205.0" height="1.4"/>
<rect x="327.4" y="540.8" width="205.0" height="7.0"/>
<rect x="327.4" y="576.9" width="205.0" height="4.3"/>
</g>
<g stroke="#149DEE" fill="none">
<path d="M327.4 539.7H532.4" stroke-width="0.6" stroke-dasharray="3 2 1 4 2 3" stroke-opacity="0.7"/>
<path d="M327.4 548.3H532.4" stroke-width="0.7" stroke-dasharray="2 3 1 5 4 3" stroke-opacity="0.7"/>
<path d="M327.4 581.6H532.4" stroke-width="0.7" stroke-dasharray="1 3 2 5 3 2" stroke-opacity="0.6"/>
<path d="M327.9 499V582" stroke-width="1.4"/><path d="M327.9 459V499M327.9 582V596" stroke-width="1.1" stroke-dasharray="1.2 3 2 4 1 5"/>
</g>
</g>
</svg></body></html>
